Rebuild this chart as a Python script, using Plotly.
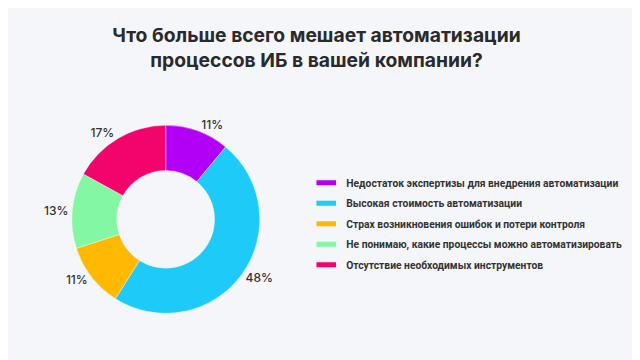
import plotly.graph_objects as go

categories = [
    "Недостаток экспертизы для внедрения автоматизации",
    "Высокая стоимость автоматизации",
    "Страх возникновения ошибок и потери контроля",
    "Не понимаю, какие процессы можно автоматизировать",
    "Отсутствие необходимых инструментов",
]
values = [11, 48, 11, 13, 17]
colors = ["#B200F6", "#1ECBF8", "#FFB900", "#84F7A2", "#F2046C"]

title_text = "Что больше всего мешает автоматизации<br>процессов ИБ в вашей компании?"

fig = go.Figure()
fig.add_trace(go.Pie(
    labels=categories, values=values, sort=False, direction="clockwise", rotation=0,
    hole=0.52,
    marker=dict(colors=colors, line=dict(color="rgba(255,255,255,0.6)", width=0.6)),
    textposition="outside", texttemplate="%{value}%",
    textfont=dict(family="Inter", size=12, color="#333333", weight=500),
    showlegend=False, domain=dict(x=[0.099, 0.394], y=[0.152, 0.674]),
    hoverinfo="label+percent",
))
for i, (c, col) in enumerate(zip(categories, colors)):
    fig.add_trace(go.Scatter(
        x=[None], y=[None], mode="markers", name=c, legendgroup=f"g{i}",
        marker=dict(symbol="line-ew", size=14, color=col, line=dict(color=col, width=5)),
    ))

fig.update_layout(
    width=640, height=360,
    margin=dict(l=0, r=0, t=0, b=0),
    paper_bgcolor="#F5F6FA", plot_bgcolor="#F5F6FA",
    xaxis=dict(visible=False), yaxis=dict(visible=False),
    title=dict(text=title_text, x=0.482, xanchor="center", y=0.905, yanchor="middle",
               font=dict(family="Inter", size=19.3, color="#2A2A2A", weight="bold")),
    legend=dict(x=0.466, y=0.401, xanchor="left", yanchor="middle",
                font=dict(family="Roboto", size=10.3, color="#333333", weight="bold"),
                bgcolor="rgba(0,0,0,0)", tracegroupgap=1.5),
)
fig.write_html("out.html")
